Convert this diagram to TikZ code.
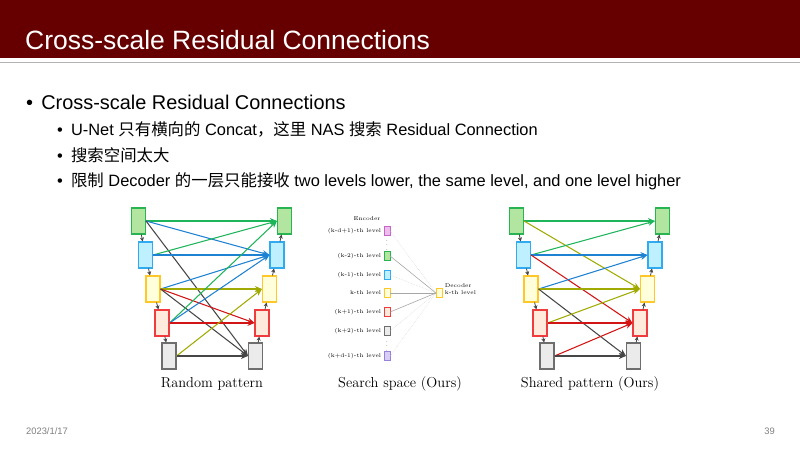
\documentclass[tikz,border=0pt]{standalone}
\usepackage{fontspec}
\setmainfont{Liberation Sans}
\newfontfamily\cjk{Noto Sans CJK SC}
\newfontfamily\lm{Latin Modern Roman}
\usetikzlibrary{arrows.meta}
\definecolor{hdr}{RGB}{102,0,0}
\definecolor{gF}{RGB}{178,230,160}\definecolor{gB}{RGB}{40,180,80}
\definecolor{bF}{RGB}{190,240,255}\definecolor{bB}{RGB}{50,170,240}
\definecolor{yF}{RGB}{255,255,220}\definecolor{yB}{RGB}{255,200,40}
\definecolor{rF}{RGB}{255,235,220}\definecolor{rB}{RGB}{240,60,60}
\definecolor{kF}{RGB}{235,235,235}\definecolor{kB}{RGB}{110,110,110}
\definecolor{pF}{RGB}{235,190,235}\definecolor{pB}{RGB}{200,100,200}
\definecolor{vF}{RGB}{215,205,245}\definecolor{vB}{RGB}{150,130,220}
\definecolor{eg}{RGB}{30,180,90}\definecolor{eb}{RGB}{30,130,210}
\definecolor{eo}{RGB}{160,170,0}\definecolor{er}{RGB}{210,20,20}
\definecolor{ek}{RGB}{70,70,70}
\tikzset{
 blk/.style={draw=#1B,fill=#1F,line width=0.9pt,minimum width=0.42cm,minimum height=0.78cm,inner sep=0pt},
 sblk/.style={draw=#1B,fill=#1F,line width=0.5pt,minimum width=0.17cm,minimum height=0.26cm,inner sep=0pt},
 edge/.style={line width=0.9pt,-{Stealth[length=6pt,width=5pt]}},
 vert/.style={line width=0.7pt,ek,-{Stealth[length=3.5pt,width=3.5pt]}},
 captxt/.style={font=\lm\fontsize{12.3}{14}\selectfont},
 tiny/.style={font=\lm\fontsize{4.7}{5.6}\selectfont,inner sep=0.5pt},
}
\begin{document}
\begin{tikzpicture}[x=0.03cm,y=-0.03cm]
\useasboundingbox (0,0) rectangle (800,450);
\fill[white] (0,0) rectangle (800,450);
\fill[hdr] (0,0) rectangle (800,58);
\draw[gray!60,line width=0.5pt] (0,62) -- (800,62);
\node[anchor=west,text=white,font=\fontsize{22.6}{26}\selectfont] (title) at (21,40) {Cross-scale Residual Connections};
\node[anchor=west,font=\fontsize{17}{20}\selectfont] (b1) at (22,102) {•\hspace{7pt}Cross-scale Residual Connections};
\node[anchor=west,font=\fontsize{14}{16}\selectfont] (b2) at (53,129) {•\hspace{7pt}U-Net {\cjk 只有横向的} Concat{\cjk ，这里} NAS {\cjk 搜索} Residual Connection};
\node[anchor=west,font=\fontsize{14}{16}\selectfont] (b3) at (53,155) {•\hspace{7pt}{\cjk 搜索空间太大}};
\node[anchor=west,font=\fontsize{14}{16}\selectfont] (b4) at (53,181) {•\hspace{7pt}{\cjk 限制} Decoder {\cjk 的一层只能接收} two levels lower, the same level, and one level higher};
\node[anchor=west,text=gray,font=\fontsize{8}{9}\selectfont] (date) at (22,431) {2023/1/17};
\node[anchor=east,text=gray,font=\fontsize{8}{9}\selectfont] (pg) at (779,431) {39};
% random pattern
\foreach \i/\xl/\xr/\y/\c in {1/138.5/284.5/221/g,2/145.5/277/255/b,3/153/269.5/289/y,4/162/262/323/r,5/169/255.5/356/k}{
 \node[blk=\c] (rL\i) at (\xl,\y) {};
 \node[blk=\c] (rR\i) at (\xr,\y) {};
 \node[blk=\c] (sL\i) at (\xl+378,\y) {};
 \node[blk=\c] (sR\i) at (\xr+378,\y) {};
}
\foreach \a/\b in {1/2,2/3,3/4,4/5}{
 \draw[vert] (rL\a) -- (rL\b); \draw[vert] (rR\b) -- (rR\a);
 \draw[vert] (sL\a) -- (sL\b); \draw[vert] (sR\b) -- (sR\a);
}
\foreach \s/\t/\c in {1/1/eg,1/2/eb,1/5/ek,2/1/eg,2/2/eb,3/2/eb,3/3/eo,3/4/er,3/5/ek,4/1/eg,4/2/eb,4/4/er,5/3/eo,5/5/ek}
 \draw[edge,\c] (rL\s.east) -- (rR\t.west);
\foreach \s/\t/\c in {1/1/eg,1/3/eo,2/1/eg,2/2/eb,2/4/er,3/2/eb,3/3/eo,3/5/ek,4/3/eo,4/4/er,5/4/er,5/5/ek}
 \draw[edge,\c] (sL\s.east) -- (sR\t.west);
\node[captxt] (c1) at (212,384) {Random pattern};
\node[captxt] (c2) at (400,384) {Search space (Ours)};
\node[captxt] (c3) at (590,384) {Shared pattern (Ours)};
% search space
\node[tiny] (enc) at (367,219) {Encoder};
\node[sblk=y] (dec) at (439,293) {};
\node[tiny,anchor=west,align=left] (decl) at (444,289) {Decoder\\k-th level};
\foreach \n/\y/\c/\t in {1/231/p/(k-d+1)-th level,2/256/g/(k-2)-th level,3/275/b/(k-1)-th level,4/293/y/k-th level,5/312/r/(k+1)-th level,6/331/k/(k+2)-th level,7/356/v/(k+d-1)-th level}{
 \node[sblk=\c] (e\n) at (387,\y) {};
 \node[tiny,anchor=east] (el\n) at (382,\y) {\t};
}
\node[tiny] (d1) at (387,242) {$\vdots$};
\node[tiny] (d2) at (387,343) {$\vdots$};
\foreach \n in {1,3,6,7} \draw[gray!40,densely dotted,line width=0.4pt] (e\n.east) -- (dec.west);
\foreach \n in {2,4,5} \draw[gray!70,line width=0.5pt] (e\n.east) -- (dec.west);
\end{tikzpicture}
\end{document}
